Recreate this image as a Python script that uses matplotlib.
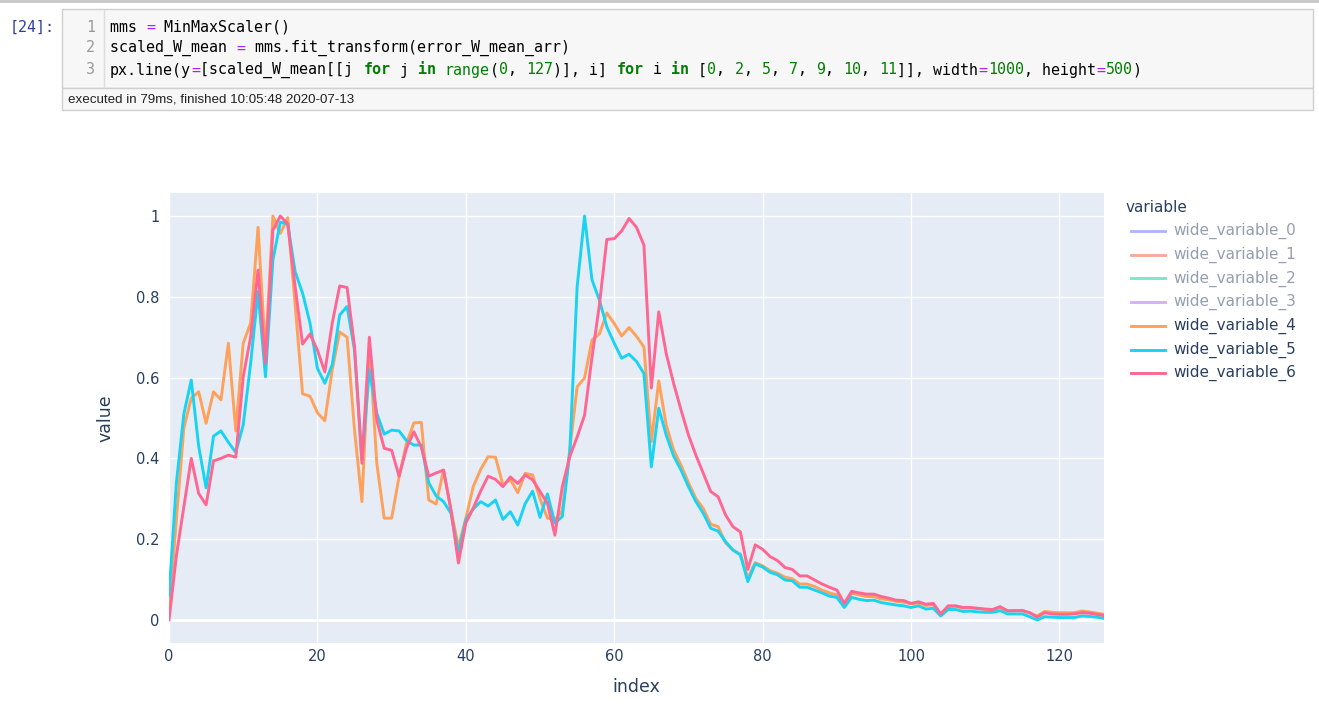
import matplotlib
matplotlib.use("Agg")
import matplotlib.pyplot as plt
from matplotlib.lines import Line2D
from matplotlib.patches import Rectangle

# Data (index 0..126), only visible traces
wide_variable_4 = [
    0.02, 0.25, 0.475, 0.549, 0.565, 0.487, 0.565, 0.545, 0.685, 0.468,
    0.685, 0.735, 0.972, 0.66, 1.0, 0.957, 0.996, 0.78, 0.56, 0.554,
    0.513, 0.493, 0.62, 0.713, 0.70, 0.47, 0.293, 0.685, 0.388, 0.252,
    0.252, 0.354, 0.437, 0.488, 0.489, 0.297, 0.287, 0.371, 0.272, 0.181,
    0.252, 0.33, 0.373, 0.404, 0.403, 0.334, 0.348, 0.315, 0.363, 0.359,
    0.30, 0.252, 0.248, 0.27, 0.42, 0.577, 0.599, 0.693, 0.708, 0.76,
    0.734, 0.703, 0.724, 0.702, 0.676, 0.441, 0.592, 0.483, 0.421, 0.383,
    0.34, 0.301, 0.276, 0.237, 0.231, 0.191, 0.173, 0.163, 0.104, 0.142,
    0.134, 0.122, 0.116, 0.106, 0.102, 0.089, 0.089, 0.083, 0.074, 0.067,
    0.062, 0.037, 0.066, 0.062, 0.058, 0.058, 0.052, 0.05, 0.046, 0.044,
    0.04, 0.042, 0.036, 0.038, 0.014, 0.033, 0.034, 0.029, 0.03, 0.028,
    0.026, 0.025, 0.031, 0.022, 0.023, 0.024, 0.017, 0.01, 0.021, 0.019,
    0.018, 0.018, 0.018, 0.022, 0.02, 0.017, 0.014,
]
wide_variable_5 = [
    0.06, 0.34, 0.51, 0.594, 0.43, 0.327, 0.455, 0.468, 0.44, 0.415,
    0.483, 0.635, 0.813, 0.602, 0.891, 0.985, 0.98, 0.862, 0.809, 0.735,
    0.623, 0.586, 0.632, 0.755, 0.776, 0.668, 0.396, 0.619, 0.512, 0.46,
    0.47, 0.468, 0.444, 0.433, 0.433, 0.34, 0.307, 0.293, 0.264, 0.165,
    0.248, 0.275, 0.293, 0.282, 0.297, 0.249, 0.268, 0.235, 0.288, 0.319,
    0.254, 0.312, 0.24, 0.256, 0.413, 0.825, 1.0, 0.842, 0.792, 0.726,
    0.685, 0.648, 0.658, 0.64, 0.61, 0.379, 0.524, 0.458, 0.406, 0.371,
    0.33, 0.293, 0.264, 0.227, 0.22, 0.194, 0.173, 0.161, 0.095, 0.139,
    0.131, 0.118, 0.112, 0.099, 0.097, 0.081, 0.081, 0.074, 0.067, 0.059,
    0.056, 0.031, 0.056, 0.051, 0.048, 0.049, 0.043, 0.04, 0.037, 0.035,
    0.031, 0.035, 0.027, 0.029, 0.01, 0.026, 0.026, 0.021, 0.022, 0.02,
    0.019, 0.019, 0.023, 0.015, 0.015, 0.015, 0.008, 0.0, 0.008, 0.007,
    0.006, 0.006, 0.006, 0.01, 0.009, 0.007, 0.004,
]
wide_variable_6 = [
    0.0, 0.16, 0.28, 0.40, 0.313, 0.285, 0.394, 0.40, 0.408, 0.403,
    0.602, 0.70, 0.866, 0.635, 0.965, 1.0, 0.98, 0.825, 0.683, 0.708,
    0.668, 0.614, 0.735, 0.827, 0.823, 0.677, 0.388, 0.70, 0.495, 0.425,
    0.42, 0.356, 0.425, 0.466, 0.428, 0.356, 0.364, 0.371, 0.272, 0.141,
    0.24, 0.277, 0.319, 0.356, 0.348, 0.33, 0.354, 0.338, 0.359, 0.347,
    0.318, 0.289, 0.21, 0.33, 0.404, 0.453, 0.507, 0.65, 0.78, 0.942,
    0.944, 0.963, 0.994, 0.972, 0.928, 0.574, 0.763, 0.66, 0.586, 0.52,
    0.458, 0.408, 0.363, 0.318, 0.305, 0.26, 0.231, 0.218, 0.125, 0.186,
    0.175, 0.157, 0.147, 0.13, 0.125, 0.109, 0.109, 0.099, 0.089, 0.081,
    0.074, 0.041, 0.071, 0.067, 0.064, 0.064, 0.058, 0.054, 0.049, 0.048,
    0.041, 0.045, 0.039, 0.041, 0.015, 0.035, 0.035, 0.031, 0.031, 0.029,
    0.027, 0.026, 0.033, 0.023, 0.023, 0.023, 0.018, 0.007, 0.018, 0.015,
    0.014, 0.014, 0.015, 0.018, 0.017, 0.014, 0.011,
]
index = list(range(len(wide_variable_4)))

legend_names = ["wide_variable_0", "wide_variable_1", "wide_variable_2",
                "wide_variable_3", "wide_variable_4", "wide_variable_5",
                "wide_variable_6"]
legend_colors = ["#636EFA", "#EF553B", "#00CC96", "#AB63FA",
                 "#FFA15A", "#19D3F3", "#FF6692"]
legend_hidden = [True, True, True, True, False, False, False]

x_ticks = [0, 20, 40, 60, 80, 100, 120]
y_ticks = [0, 0.2, 0.4, 0.6, 0.8, 1]
y_tick_labels = ["0", "0.2", "0.4", "0.6", "0.8", "1"]

W, H = 1319, 725
fig = plt.figure(figsize=(W / 100, H / 100), dpi=100)
fig.patch.set_facecolor("white")


def fx(x):
    return x / W


def fy(y):
    return 1 - y / H


# ---- notebook cell chrome ----
fig.add_artist(Line2D([0, 1], [fy(1), fy(1)], color="#c8c8c8", lw=2))
fig.add_artist(Rectangle((fx(62), fy(88)), fx(1313) - fx(62), fy(9) - fy(88),
                         transform=fig.transFigure, fc="#f7f7f7", ec="#cfcfcf", lw=1))
fig.add_artist(Rectangle((fx(62), fy(110)), fx(1313) - fx(62), fy(88) - fy(110),
                         transform=fig.transFigure, fc="#f7f7f7", ec="#cfcfcf", lw=1))
fig.add_artist(Line2D([fx(104), fx(104)], [fy(10), fy(87)], color="#dddddd", lw=1))

mono = "DejaVu Sans Mono"
mono_size = 10.8
char_w = 9.05

fig.text(fx(10), fy(27), "[24]:", family=mono, size=mono_size, color="#303F9F",
         va="center", ha="left")

K, P, G = "#000000", "#AA22FF", "#008000"
code_lines = [
    [("mms ", K, "normal"), ("=", P, "normal"), (" MinMaxScaler()", K, "normal")],
    [("scaled_W_mean ", K, "normal"), ("=", P, "normal"),
     (" mms.fit_transform(error_W_mean_arr)", K, "normal")],
    [("px.line(y", K, "normal"), ("=", P, "normal"), ("[scaled_W_mean[[j ", K, "normal"),
     ("for", G, "bold"), (" j ", K, "normal"), ("in", G, "bold"), (" ", K, "normal"),
     ("range", G, "normal"), ("(", K, "normal"), ("0", G, "normal"), (", ", K, "normal"),
     ("127", G, "normal"), (")], i] ", K, "normal"), ("for", G, "bold"),
     (" i ", K, "normal"), ("in", G, "bold"), (" [", K, "normal"), ("0", G, "normal"),
     (", ", K, "normal"), ("2", G, "normal"), (", ", K, "normal"), ("5", G, "normal"),
     (", ", K, "normal"), ("7", G, "normal"), (", ", K, "normal"), ("9", G, "normal"),
     (", ", K, "normal"), ("10", G, "normal"), (", ", K, "normal"), ("11", G, "normal"),
     ("]], width", K, "normal"), ("=", P, "normal"), ("1000", G, "normal"),
     (", height", K, "normal"), ("=", P, "normal"), ("500", G, "normal"), (")", K, "normal")],
]
line_y = [27, 48, 70]
for n, (tokens, yy) in enumerate(zip(code_lines, line_y)):
    fig.text(fx(95), fy(yy), str(n + 1), family=mono, size=mono_size,
             color="#999999", va="center", ha="right")
    col = 0
    for text, color, weight in tokens:
        fig.text(fx(110 + col * char_w), fy(yy), text, family=mono, size=mono_size,
                 color=color, weight=weight, va="center", ha="left")
        col += len(text)

fig.text(fx(68), fy(99), "executed in 79ms, finished 10:05:48 2020-07-13",
         family="Liberation Sans", size=9.6, color="#222222", va="center", ha="left")

# ---- plot ----
ax = fig.add_axes([fx(169), fy(643), fx(1104) - fx(169), fy(193) - fy(643)])
ax.set_facecolor("#E5ECF6")
for s in ax.spines.values():
    s.set_visible(False)

ax.plot(index, wide_variable_4, color="#FFA15A", lw=2.1, zorder=3)
ax.plot(index, wide_variable_5, color="#19D3F3", lw=2.1, zorder=4)
ax.plot(index, wide_variable_6, color="#FF6692", lw=2.1, zorder=5)

ax.set_xlim(0, 126)
ax.set_ylim(-0.057, 1.057)
ax.set_xticks(x_ticks)
ax.set_yticks(y_ticks)
ax.set_yticklabels(y_tick_labels)
ax.grid(True, color="white", lw=1)
ax.set_axisbelow(True)
ax.axhline(0, color="white", lw=2.2, zorder=1.5)
ax.tick_params(length=0, labelsize=10.5, labelcolor="#2a3f5f")
ax.tick_params(axis="y", pad=7)
ax.tick_params(axis="x", pad=4)
for lab in ax.get_xticklabels() + ax.get_yticklabels():
    lab.set_family("DejaVu Sans")

fig.text(fx(636.5), fy(687), "index", size=12.5, color="#2a3f5f",
         ha="center", va="center")
fig.text(fx(105), fy(418), "value", size=12.5, color="#2a3f5f",
         ha="center", va="center", rotation=90)

# ---- legend ----
fig.text(fx(1126), fy(208), "variable", size=11, color="#2a3f5f",
         ha="left", va="center")
for k, (name, color, hidden) in enumerate(zip(legend_names, legend_colors, legend_hidden)):
    yy = 231 + k * 23.7
    alpha = 0.5 if hidden else 1.0
    fig.add_artist(Line2D([fx(1131), fx(1165)], [fy(yy), fy(yy)], color=color,
                          lw=2.1, alpha=alpha))
    fig.text(fx(1173), fy(yy), name, size=11, color="#2a3f5f", alpha=alpha,
             ha="left", va="center")

fig.savefig("out.png", dpi=100)
